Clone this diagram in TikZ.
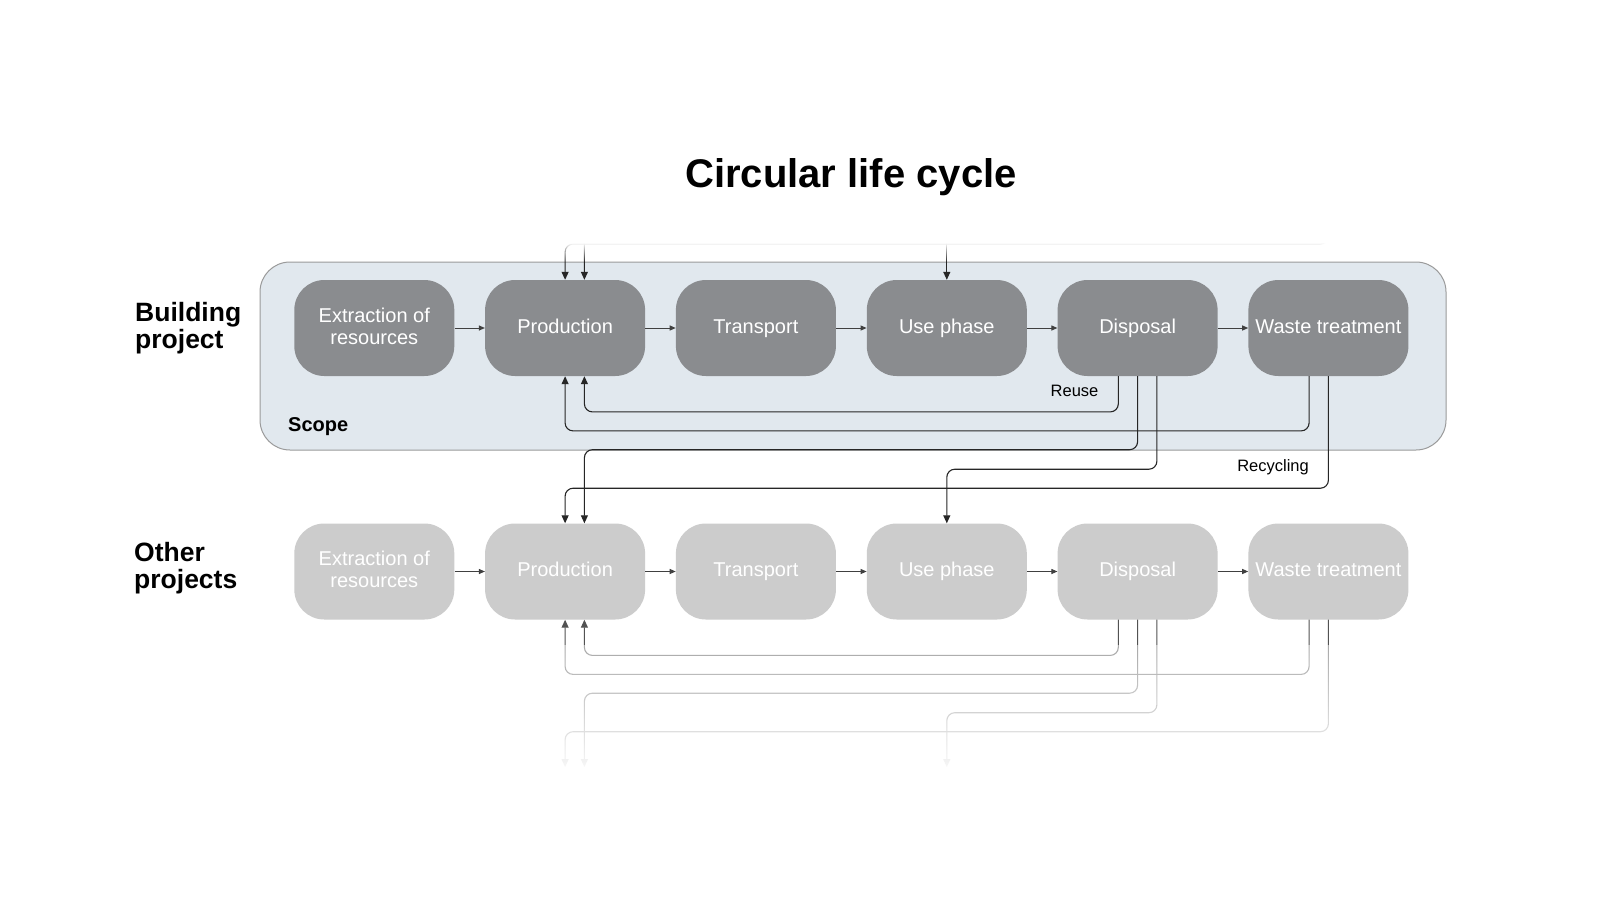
\documentclass[tikz,border=0pt]{standalone}
\usepackage{fontspec}
\setmainfont{Liberation Sans}
\usetikzlibrary{arrows.meta}
\definecolor{boxdark}{HTML}{8A8C8F}
\definecolor{boxlight}{HTML}{CCCCCC}
\definecolor{scopefill}{HTML}{E1E8EE}
\definecolor{scopeline}{HTML}{9A9A9A}
\begin{document}
\begin{tikzpicture}[x=1pt,y=-1pt,
  stage/.style={rectangle, rounded corners=30pt, minimum width=160pt, minimum height=96pt,
    inner sep=0pt, text=white, font=\fontsize{20}{22}\selectfont, align=center},
  one/.style={text height=14.5pt, text depth=4pt},
  two/.style={text height=36.5pt, text depth=4pt},
  upper/.style={stage, fill=boxdark},
  lower/.style={stage, fill=boxlight},
  flow/.style={draw=black!75, line width=1pt, -{Triangle[length=6pt,width=5pt]}},
  conn/.style={draw=black!85, line width=1.1pt, rounded corners=8pt, -{Triangle[length=8pt,width=7pt]}},
  lconn/.style={conn, draw=black!68},
  heading/.style={anchor=west, inner sep=0pt, align=left, font=\fontsize{26.5}{27.5}\selectfont\bfseries},
  lbl/.style={inner sep=0pt, font=\fontsize{16.5}{18}\selectfont}
]
\fill[white] (0,0) rectangle (1600,900);
\useasboundingbox (0,0) rectangle (1600,900);

% title
\node[inner sep=0pt, anchor=base, font=\fontsize{40}{44}\selectfont\bfseries] (title) at (851,187) {Circular life cycle};

% scope
\node[draw=scopeline, fill=scopefill, line width=1pt, rounded corners=30pt, minimum width=1186pt,
  minimum height=188pt, inner sep=0pt] (scope) at (853,356) {};
\node[inner sep=0pt, anchor=west, font=\fontsize{20}{22}\selectfont\bfseries] (scopelbl) at (288,427) {Scope};

% row labels
\node[heading] (bp) at (135,328) {Building\\project};
\node[heading] (op) at (134,568) {Other\\projects};

% upper row
\node[upper, two] (u1) at (374.3,328) {Extraction of\\resources};
\node[upper, one] (u2) at (565.1,328) {Production};
\node[upper, one] (u3) at (755.9,328) {Transport};
\node[upper, one] (u4) at (946.8,328) {Use phase};
\node[upper, one] (u5) at (1137.6,328) {Disposal};
\node[upper, one] (u6) at (1328.4,328) {Waste treatment};

% lower row
\node[lower, two] (l1) at (374.3,571.5) {Extraction of\\resources};
\node[lower, one] (l2) at (565.1,571.5) {Production};
\node[lower, one] (l3) at (755.9,571.5) {Transport};
\node[lower, one] (l4) at (946.8,571.5) {Use phase};
\node[lower, one] (l5) at (1137.6,571.5) {Disposal};
\node[lower, one] (l6) at (1328.4,571.5) {Waste treatment};

% chain arrows
\foreach \r in {u,l}{
  \draw[flow] (\r1) -- (\r2);
  \draw[flow] (\r2) -- (\r3);
  \draw[flow] (\r3) -- (\r4);
  \draw[flow] (\r4) -- (\r5);
  \draw[flow] (\r5) -- (\r6);
}

% anchor coordinates
\coordinate (u2nb) at ([xshift=19.3pt]u2.north);
\coordinate (u2sb) at ([xshift=19.3pt]u2.south);
\coordinate (u5sa) at ([xshift=-19.3pt]u5.south);
\coordinate (u5sb) at ([xshift=19.3pt]u5.south);
\coordinate (u6sa) at ([xshift=-19.3pt]u6.south);
\coordinate (l2nb) at ([xshift=19.3pt]l2.north);
\coordinate (l2sb) at ([xshift=19.3pt]l2.south);
\coordinate (l5sa) at ([xshift=-19.3pt]l5.south);
\coordinate (l5sb) at ([xshift=19.3pt]l5.south);
\coordinate (l6sa) at ([xshift=-19.3pt]l6.south);

% incoming from above (faded)
\coordinate (t6) at (1328.4,230);
\coordinate (t2b) at (584.4,230);
\coordinate (t4) at (946.8,230);
\draw[conn] (t6) -- ++(0,14) -| (u2.north);
\draw[conn] (t2b) -- (u2nb);
\draw[conn] (t4) -- (u4.north);

% upper loops
\draw[conn] (u5sa) -- ++(0,35.7) -| (u2sb);
\draw[conn] (u6sa) -- ++(0,54.7) -| (u2.south);
\draw[conn] (u5.south) -- ++(0,73.5) -| (l2nb);
\draw[conn] (u5sb) -- ++(0,93) -| (l4.north);
\draw[conn] (u6.south) -- ++(0,112) -| (l2.north);

% lower loops
\coordinate (n2) at (565.1,767);
\coordinate (n2b) at (584.4,767);
\coordinate (n4) at (946.8,767);
\draw[lconn] (l5sa) -- ++(0,35.7) -| (l2sb);
\draw[lconn] (l6sa) -- ++(0,54.7) -| (l2.south);
\draw[lconn] (l5.south) -- ++(0,73.5) -| (n2b);
\draw[lconn] (l5sb) -- ++(0,93) -| (n4);
\draw[lconn] (l6.south) -- ++(0,112) -| (n2);

% fading overlays
\foreach \yy in {222,...,261}{
  \pgfmathsetmacro\op{min(1,(262-\yy-0.5)/19)}
  \fill[white, fill opacity=\op] (540,\yy) rectangle (1345,\yy+1);
}
\foreach \yy in {645,...,785}{
  \pgfmathsetmacro\op{min(1,0.5+(\yy+0.5-645)*0.0037)}
  \fill[white, fill opacity=\op] (540,\yy) rectangle (1345,\yy+1);
}

% edge labels
\node[lbl] (reuse) at (1074.5,391) {Reuse};
\node[lbl] (recyc) at (1273,467.7) {Recycling};
\end{tikzpicture}
\end{document}
